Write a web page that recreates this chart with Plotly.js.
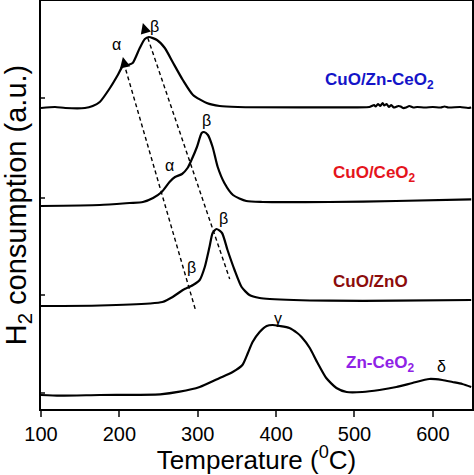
<!DOCTYPE html>
<html><head><meta charset="utf-8">
<script src="https://cdn.plot.ly/plotly-3.0.1.min.js"></script>
<style>html,body{margin:0;padding:0;background:#fff}#chart{width:474px;height:475px}</style>
</head><body><div id="chart"></div>
<script>
// CuO/Zn-CeO2 (offset profile)
const tCuZnCe = [100,118,131,156,166,175,188,198,204.5,211,217,226,232.5,237.6,248,258,268,281,294,311.5,328,351,430,519,522,525,527,530,533,536,538,541,544,547,550,553,556,559,562,566,570,575,580,590,600,610,615,620,635,645,649];
const vCuZnCe = [301,302,301,301,303,307,321,334,343,344,346,361,370,372,369,361,347,329,314,306,303,302,301.7,302,303,304,302.5,305,303,306,303.5,305,302,304,301.5,302,303,302.5,301,301.5,303,301.5,302,301.5,302,301.5,302.5,301.5,302,301,301.5];
// CuO/CeO2
const tCuCe = [100,175,213,230,243,254,264,271,280,287,292,299,305,308,313,319,325.5,334,345,362,383,468,553,649];
const vCuCe = [203,204,206,207,211,217,227,232,235,241,249,262,276,277,274,262,242,226,214,208,207,207,208,209.7];
// CuO/ZnO
const tCuZn = [100,175,239,255,268,281,294,302.5,309,315,319,324,331,338,347,356,366,379,392,468,553,649];
const vCuZn = [103,103.5,105.5,107,112,119,124,129,142,162,176,180,176,159,139,122,114,111,110,108.3,108.3,109];
// Zn-CeO2
const tZnCe = [100,124,175,252,277,302.5,328,344.6,357,364,370,379,388,395.5,404.5,417,427,432.5,443,453,464,477,490,510,532,553.5,574,595.5,612,625,637.6,649];
const vZnCe = [14,13.3,14,14.7,17.3,22,31,37,44,56,67,77,83,84,83,81,76,72,61,46,31,21,17,17,19,22,26,30,29,27,25,22];
// guide lines (dashed) between alpha / beta peaks
const guideAlphaT = [205.7, 297.5];
const guideAlphaV = [346, 98];
const guideBetaT = [236.3, 340.8];
const guideBetaV = [371, 130];

const sampleNames = ['CuO/Zn-CeO<sub>2</sub>','CuO/CeO<sub>2</sub>','CuO/ZnO','Zn-CeO<sub>2</sub>'];
const sampleColors = ['#1414c8','#e5141c','#8c0c0c','#8f22e6'];
const xTicks = [100,200,300,400,500,600];

const lineStyle = {color:'#000', width:2.2, shape:'spline', smoothing:0.6};
const traces = [
  {x:tCuZnCe, y:vCuZnCe, mode:'lines', line:lineStyle},
  {x:tCuCe, y:vCuCe, mode:'lines', line:lineStyle},
  {x:tCuZn, y:vCuZn, mode:'lines', line:lineStyle},
  {x:tZnCe, y:vZnCe, mode:'lines', line:lineStyle},
  {x:guideAlphaT, y:guideAlphaV, mode:'lines', line:{color:'#000', width:1.4, dash:'4px,3px'}},
  {x:guideBetaT, y:guideBetaV, mode:'lines', line:{color:'#000', width:1.4, dash:'4px,3px'}}
];

const F = 'Arial, "Liberation Sans", sans-serif';
const lab = (t, x, y, c) => ({text:'<b>'+t+'</b>', x:x, y:y, xref:'x', yref:'y', showarrow:false, font:{family:F, size:17, color:c}});
const greek = (t, x, y) => ({text:t, x:x, y:y, xref:'x', yref:'y', showarrow:false, font:{family:F, size:16, color:'#000'}});
const arrow = (x, y, ax, ay) => ({text:'', x:x, y:y, ax:ax, ay:ay, xref:'x', yref:'y', axref:'x', ayref:'y', showarrow:true, arrowhead:2, arrowsize:1.4, arrowwidth:1.5, arrowcolor:'#000'});

const annotations = [
  lab(sampleNames[0], 532, 328, sampleColors[0]),
  lab(sampleNames[1], 525.5, 235, sampleColors[1]),
  lab(sampleNames[2], 520.4, 128, sampleColors[2]),
  lab(sampleNames[3], 533, 45, sampleColors[3]),
  greek('α', 196.8, 365), greek('β', 245.2, 383),
  greek('α', 264.3, 244), greek('β', 311.5, 289),
  greek('β', 333.1, 191), greek('β', 292.4, 142),
  greek('γ', 401.9, 91), greek('δ', 610.8, 43),
  arrow(204.5, 352, 207, 343),
  arrow(230, 386, 233.8, 376)
];

const layout = {
  width:474, height:475,
  margin:{l:41, r:2, t:1, b:66},
  paper_bgcolor:'#fff', plot_bgcolor:'#fff',
  showlegend:false,
  xaxis:{range:[100,650], tickvals:xTicks, ticktext:xTicks.map(String), ticks:'outside', ticklen:6, tickwidth:2,
    showline:true, linewidth:2, linecolor:'#000', mirror:true, showgrid:false, zeroline:false,
    tickfont:{family:F, size:20, color:'#000'},
    title:{text:'Temperature (<sup>0</sup>C)', font:{family:F, size:26, color:'#000'}, standoff:2}},
  yaxis:{range:[0,408], tickvals:[16,114,211,311], showticklabels:false, ticks:'inside', ticklen:4, tickwidth:1.5,
    showline:true, linewidth:2, linecolor:'#000', mirror:true, showgrid:false, zeroline:false,
    title:{text:'H<sub>2</sub> consumption (a.u.)', font:{family:F, size:29, color:'#000'}, standoff:4}},
  annotations:annotations
};
Plotly.newPlot('chart', traces, layout, {displayModeBar:false, staticPlot:true});
</script></body></html>
